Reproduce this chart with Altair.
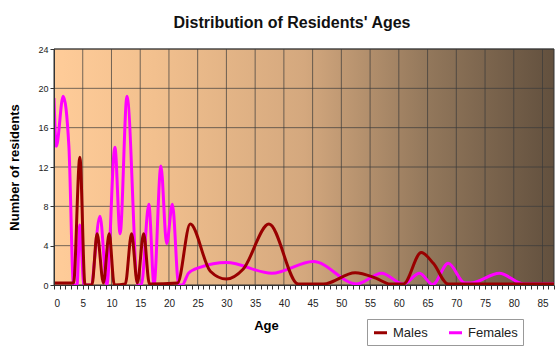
import altair as alt
import pandas as pd

# Data
male_ages = [0, 3.4, 4.5, 5.4, 6.6, 7.5, 8.6, 9.6, 10.5, 12.4, 13.5, 14.5, 15.6, 16.6,
             21.5, 23.7, 27.2, 30.0, 32.9, 37.4, 42.5, 46.9, 52.4, 56.0, 58.5, 60.8,
             63.9, 66.0, 68.6, 87]
male_vals = [0.2, 0.2, 13.0, 0.0, 0.0, 5.2, 0.2, 5.2, 0.0, 0.1, 5.2, 0.2, 5.2, 0.1,
             0.2, 6.2, 1.4, 0.6, 1.6, 6.2, 0.1, 0.1, 1.25, 0.7, 0.1, 0.1,
             3.3, 2.2, 0.1, 0.1]

female_ages = [0, 0.4, 1.6, 2.6, 3.4, 4.0, 4.5, 5.2, 6.4, 8.0, 9.2, 10.6, 11.5, 12.7,
               14.6, 15.2, 16.5, 17.4, 18.6, 19.6, 20.6, 21.7, 22.3, 23.4, 25.4, 30.0,
               37.9, 45.1, 52.7, 57.0, 60.8, 63.6, 65.9, 68.6, 71.5, 72.5, 77.5, 81.7, 87]
female_vals = [19.0, 14.1, 19.2, 14.0, 0.0, 0.0, 6.1, 0.0, 0.0, 7.0, 0.0, 14.0, 5.2, 19.2,
               0.0, 0.0, 8.2, 0.0, 12.1, 4.2, 8.2, 0.0, 0.0, 1.2, 1.8, 2.3,
               1.2, 2.4, 0.1, 1.2, 0.1, 1.2, 0.05, 2.2, 0.2, 0.2, 1.2, 0.1, 0.1]

series_names = ["Males", "Females"]
series_colors = ["#990000", "#FF00FF"]

x_ticks = list(range(0, 90, 5))
y_ticks = [0, 4, 8, 12, 16, 20, 24]
x_minor = list(range(0, 88))

males = pd.DataFrame({"age": male_ages, "value": male_vals, "series": "Males"})
females = pd.DataFrame({"age": female_ages, "value": female_vals, "series": "Females"})

xscale = alt.Scale(domain=[0, 87], nice=False, zero=False)
yscale = alt.Scale(domain=[0, 24], nice=False)
cscale = alt.Scale(domain=series_names, range=series_colors)

gradient = {
    "gradient": "linear",
    "x1": 0, "x2": 1, "y1": 0, "y2": 0,
    "stops": [
        {"offset": 0.0, "color": "#FFCC99"},
        {"offset": 0.2, "color": "#F2C08E"},
        {"offset": 0.5, "color": "#D4A87E"},
        {"offset": 0.75, "color": "#92775B"},
        {"offset": 1.0, "color": "#62503E"},
    ],
}

x_axis = alt.Axis(
    values=x_minor,
    labelExpr="datum.value % 5 === 0 ? datum.label : ''",
    tickSize=4, tickColor="#333", domainColor="#333",
    labelFontSize=10, labelColor="#222", labelPadding=9, labelFont="Liberation Sans",
    title="Age", titleFontSize=13, titleFontWeight="bold", titleFont="Liberation Sans",
    titleX=212, titleY=40, titleBaseline="middle", titleAlign="center",
    grid=False, zindex=1, labelOverlap=False,
)
y_axis = alt.Axis(
    values=y_ticks,
    tickSize=4, tickColor="#333", domainColor="#333",
    labelFontSize=9, labelColor="#222", labelPadding=2, labelFont="Liberation Sans",
    title="Number of residents", titleFontSize=13, titleFontWeight="bold",
    titleFont="Liberation Sans",
    titleX=-40, titleY=118, titleAngle=270, titleBaseline="middle", titleAlign="center",
    grid=False, zindex=1,
)

bg = alt.Chart(pd.DataFrame({"a": [0]})).mark_rect(
    fill=gradient, stroke="#333", strokeWidth=1
).encode(
    x=alt.datum(0, scale=xscale, axis=x_axis, type="quantitative"),
    x2=alt.datum(87),
    y=alt.datum(0, scale=yscale, axis=y_axis, type="quantitative"),
    y2=alt.datum(24),
)

vgrid = alt.Chart(pd.DataFrame({"t": x_ticks[1:]})).mark_rule(
    color="#3a3a3a", opacity=0.7, strokeWidth=1
).encode(x=alt.X("t:Q", scale=xscale, axis=x_axis))

hgrid = alt.Chart(pd.DataFrame({"t": y_ticks[1:]})).mark_rule(
    color="#3a3a3a", opacity=0.7, strokeWidth=1
).encode(y=alt.Y("t:Q", scale=yscale, axis=y_axis))

legend = alt.Legend(
    title=None, orient="none", legendX=313, legendY=270, direction="horizontal",
    padding=5, strokeColor="#999", fillColor="white",
    symbolType="stroke", symbolStrokeWidth=3, symbolSize=170,
    labelFontSize=13, labelFont="Liberation Sans", labelColor="#222",
    columnPadding=14, labelOffset=4,
)

def line_layer(df):
    return alt.Chart(df).mark_line(interpolate="monotone", strokeWidth=3, clip=True).encode(
        x=alt.X("age:Q", scale=xscale, axis=x_axis),
        y=alt.Y("value:Q", scale=yscale, axis=y_axis),
        color=alt.Color("series:N", scale=cscale, legend=legend),
    )

chart = alt.layer(
    bg, vgrid, hgrid, line_layer(females), line_layer(males)
).properties(
    width=500, height=236,
    autosize=alt.AutoSizeParams(type="none"),
    padding={"left": 54, "top": 49, "right": 6, "bottom": 68},
    title=alt.TitleParams(
        "Distribution of Residents' Ages", fontSize=16, fontWeight="bold",
        font="Liberation Sans", anchor="middle", dx=-12, dy=20, offset=21,
        baseline="alphabetic", color="#111",
    ),
).configure(background="white").configure_view(stroke=None)

chart.save("out.html", embed_options={"renderer": "svg", "actions": False})
